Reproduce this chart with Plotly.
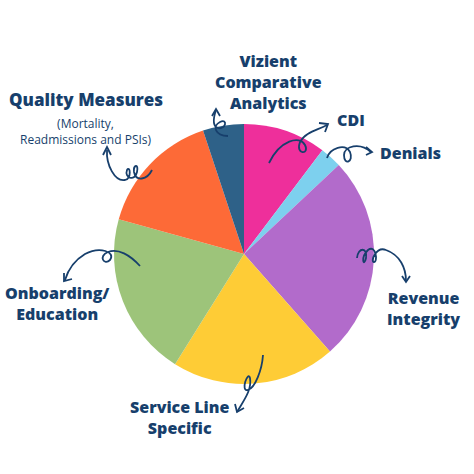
import plotly.graph_objects as go

W = H = 474

labels = ["CDI", "Denials", "Revenue Integrity", "Service Line Specific",
          "Onboarding/Education", "Quality Measures", "Vizient Comparative Analytics"]
values = [10.3, 2.7, 25.5, 20.4, 20.4, 15.6, 5.1]
colors = ["#EE2F9B", "#7DD0EE", "#B26BCB", "#FECC36", "#9DC47A", "#FD6A37", "#2E6188"]

NAVY = "#173F6C"
FONT = "Open Sans"

fig = go.Figure()
cx, cy, r = 244, 254, 130
fig.add_trace(go.Pie(
    labels=labels, values=values, sort=False, direction="clockwise", rotation=0,
    marker=dict(colors=colors, line=dict(width=0)),
    textinfo="none", hoverinfo="label+percent", showlegend=False,
    domain=dict(x=[(cx - r) / W, (cx + r) / W], y=[(H - cy - r) / H, (H - cy + r) / H]),
))

def P(x, y):
    return x / W, 1 - y / H

def path(cmds):
    out = []
    for c in cmds:
        if isinstance(c, str):
            out.append(c)
        else:
            px, py = P(*c)
            out.append(f"{px:.5f},{py:.5f}")
    return " ".join(out)

def add_path(cmds):
    fig.add_shape(type="path", xref="paper", yref="paper", path=path(cmds),
                  line=dict(color=NAVY, width=1.8))

# decorative curly arrows
squiggles = [
    # Vizient
    ["M", (228, 136), "C", (215, 136), (212, 126), (220, 122), "C", (228, 118), (226, 130), (218, 128),
     "C", (212, 126), (214, 116), (216, 110)],
    ["M", (212, 116), "L", (216, 109), "L", (220, 116)],
    # CDI
    ["M", (269, 163), "C", (280, 140), (300, 135), (305, 145), "C", (310, 155), (295, 155), (300, 142),
     "C", (305, 132), (318, 130), (327, 125)],
    ["M", (319, 123), "L", (328, 124), "L", (325, 132)],
    # Denials
    ["M", (327, 158), "C", (330, 148), (345, 143), (350, 152), "C", (354, 162), (344, 166), (344, 155),
     "C", (344, 146), (360, 142), (371, 152)],
    ["M", (366, 147), "L", (372, 152), "L", (366, 155)],
    # Revenue
    ["M", (357, 258), "C", (358, 247), (368, 247), (366, 258), "C", (364, 268), (360, 258), (368, 250),
     "C", (376, 244), (378, 262), (374, 262), "C", (370, 262), (376, 246), (386, 250),
     "C", (400, 255), (406, 268), (406, 281)],
    ["M", (402, 276), "L", (406, 282), "L", (410, 276)],
    # Onboarding
    ["M", (140, 266), "C", (130, 255), (118, 248), (108, 252), "C", (98, 256), (104, 266), (110, 260),
     "C", (116, 252), (100, 246), (85, 254), "C", (75, 260), (68, 270), (65, 280)],
    ["M", (64, 273), "L", (64, 281), "L", (72, 279)],
    # Service line
    ["M", (263, 355), "C", (262, 370), (255, 388), (248, 390), "C", (240, 392), (248, 370), (250, 378),
     "C", (252, 390), (244, 400), (237, 412)],
    ["M", (235, 404), "L", (237, 412), "L", (244, 408)],
    # Quality
    ["M", (107, 150), "C", (106, 165), (115, 182), (125, 180), "C", (132, 178), (130, 165), (127, 170),
     "C", (124, 178), (135, 182), (137, 172), "C", (139, 163), (133, 165), (134, 172),
     "C", (136, 182), (147, 180), (152, 170)],
    ["M", (103, 155), "L", (107, 147), "L", (111, 155)],
]
for s in squiggles:
    add_path(s)

def text(t, x, y, size=16, bold=True, color=NAVY):
    px, py = P(x, y)
    fig.add_annotation(x=px, y=py, xref="paper", yref="paper", text=t, showarrow=False,
                       xanchor="center", yanchor="middle", align="center",
                       font=dict(family=FONT, size=size, color=color,
                                 weight=800 if bold else 400))

text("Vizient<br>Comparative<br>Analytics", 268, 82)
text("CDI", 351, 120)
text("Denials", 410, 153)
text("Revenue<br>Integrity", 423, 308)
text("Onboarding/<br>Education", 57, 303)
text("Service Line<br>Specific", 180, 417)
text("Quality Measures", 86, 100, size=17)
text("(Mortality,<br>Readmissions and PSIs)", 86, 131, size=12, bold=False)

fig.update_layout(width=W, height=H, margin=dict(l=0, r=0, t=0, b=0),
                  paper_bgcolor="white", plot_bgcolor="white")
fig.write_html("out.html", config={"displayModeBar": False},
               post_script="document.body.style.margin='0px';")
